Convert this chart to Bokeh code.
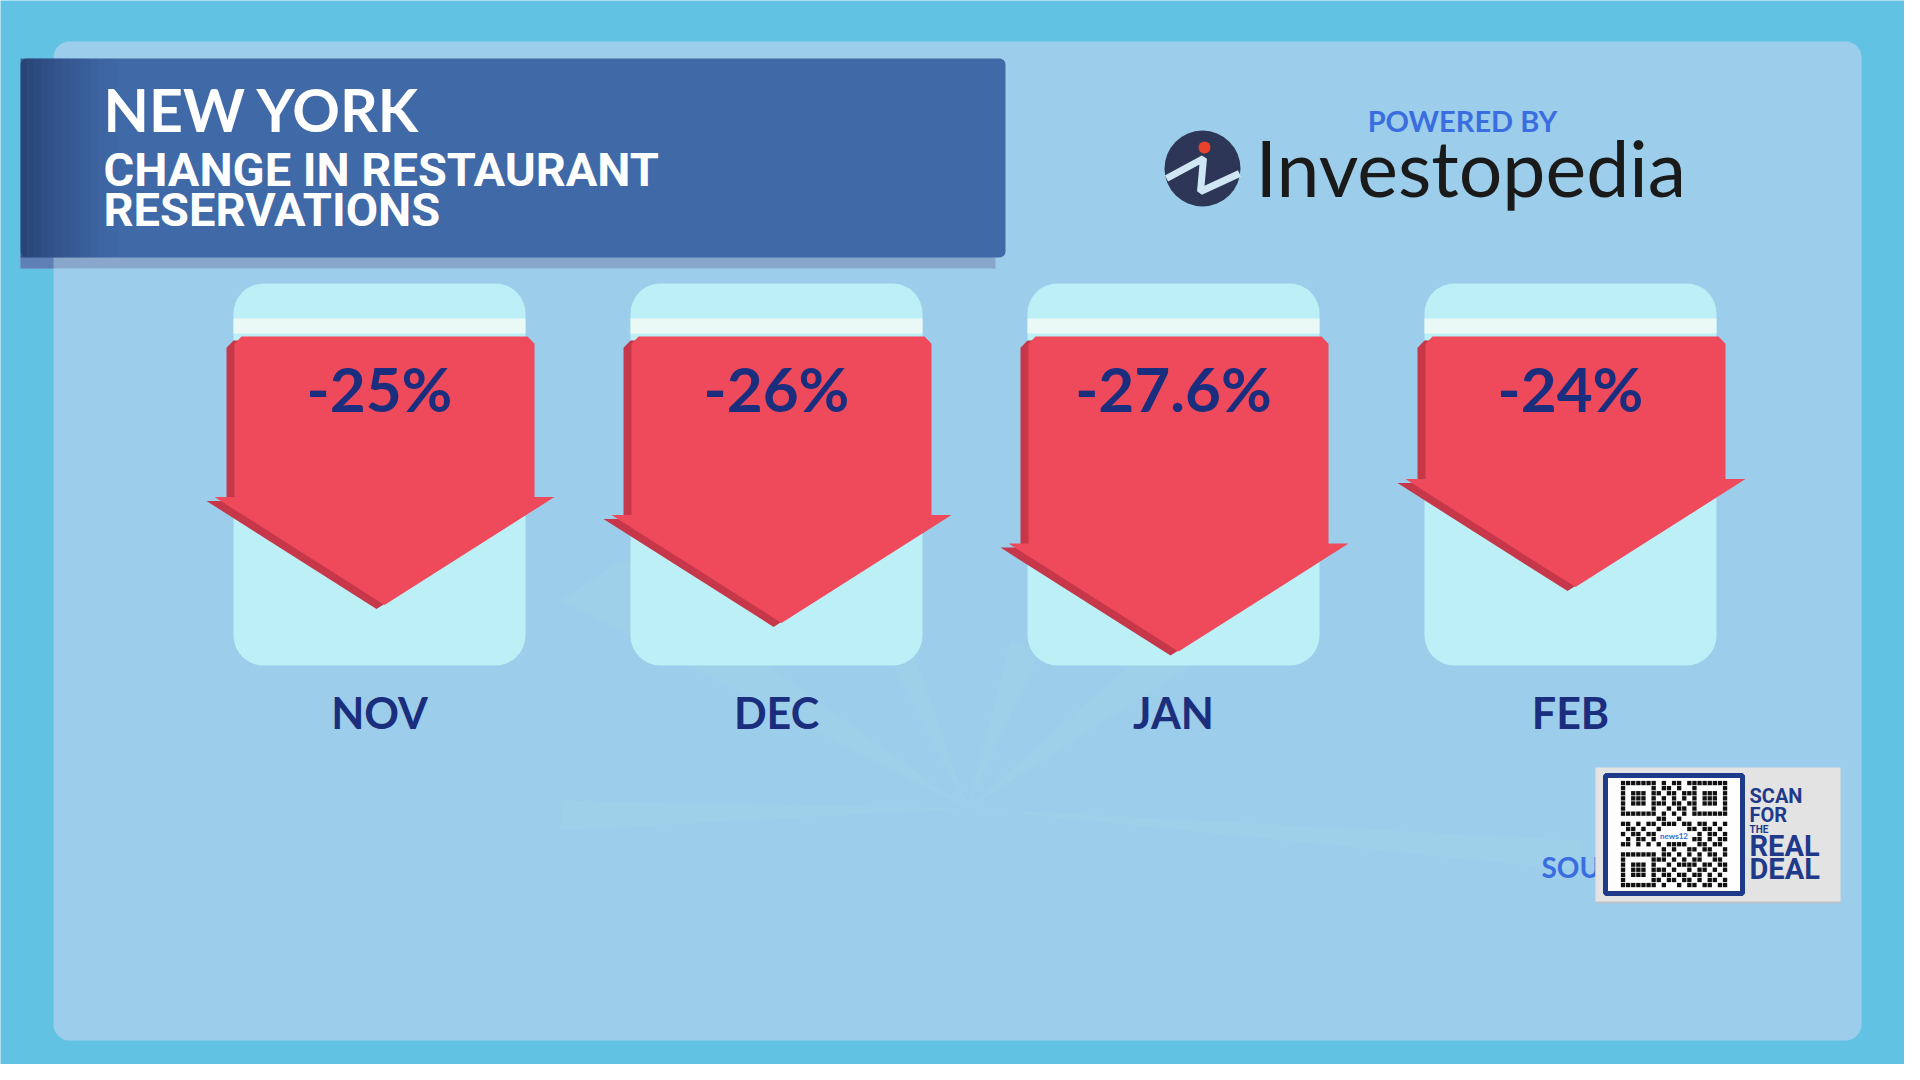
from bokeh.plotting import figure
from bokeh.models import Range1d
from bokeh.core.properties import value
from bokeh.embed import file_html
from bokeh.resources import INLINE

# ---------------- data ----------------
months = ["NOV", "DEC", "JAN", "FEB"]
changes = [-25.0, -26.0, -27.6, -24.0]
change_labels = ["-25%", "-26%", "-27.6%", "-24%"]
title_text = "NEW YORK"
subtitle_lines = ["CHANGE IN RESTAURANT", "RESERVATIONS"]
powered_text = "POWERED BY"
brand_text = "Investopedia"
qr_lines = ["SCAN", "FOR", "THE", "REAL", "DEAL"]

# ---------------- layout constants (page pixels) ----------------
W, H = 1904, 1064
OFF = 0
CX0, SP = 379.0, 397.0          # category 0 centre and spacing (px)
Y0, K = 157.0, 17.9             # 0% position and px per percent
FONT = value("Lato")
NAVY = "#1B2E7E"
BL = 0.40                       # baseline correction (em)


def ty(y, fs):
    return y - BL * fs


p = figure(width=W, height=H, x_range=Range1d(OFF, OFF + W), y_range=Range1d(OFF + H, OFF),
           output_backend="svg", toolbar_location=None, min_border=0)
p.axis.visible = False
p.grid.visible = False
p.outline_line_color = None
p.background_fill_color = "#62C2E4"
p.border_fill_color = "#62C2E4"

# category axis (index units) and percent axis
p.extra_x_ranges = {"cat": Range1d((OFF - CX0) / SP, (OFF + W - CX0) / SP)}
p.extra_y_ranges = {"pct": Range1d(-(OFF + H - Y0) / K, (Y0 - OFF) / K)}

# panel
p.quad(left=[53], right=[1861], top=[41], bottom=[1040], fill_color="#9CCDEA", line_color=None,
       border_radius=16)

# faint sunburst rays
cxr, cyr = 967, 808
rays = [((560, 600), (620, 560)), ((880, 640), (905, 630)), ((1010, 640), (1040, 650)),
        ((1580, 840), (1580, 870)), ((560, 800), (560, 830)), ((1180, 620), (1230, 640))]
p.patches(xs=[[cxr, a[0], b[0]] for a, b in rays], ys=[[cyr, a[1], b[1]] for a, b in rays],
          fill_color="#B3DBF1", fill_alpha=0.18, line_color=None)

# banner shadow + banner
p.quad(left=[20], right=[995], top=[255], bottom=[268], fill_color="#88A7CA", line_color=None)
p.quad(left=[20], right=[53], top=[255], bottom=[268], fill_color="#5F80B4", line_color=None)
p.quad(left=[20], right=[1005], top=[58], bottom=[257], fill_color="#4069A8", line_color=None,
       border_radius=6)
n = 14
p.quad(left=[20 + k * 7 for k in range(n)], right=[20 + (k + 1) * 7 for k in range(n)],
       top=[58] * n, bottom=[257] * n, fill_color="#16284F",
       fill_alpha=[0.55 * (1 - k / n) ** 1.3 for k in range(n)], line_color=None)

p.text(x=[103], y=[ty(133, 59)], text=[title_text], text_font=FONT, text_font_style="bold",
       text_font_size="59px", text_color="white", text_baseline="alphabetic")
p.text(x=[103, 103], y=[ty(188, 47), ty(228, 47)], text=subtitle_lines, text_font=value("Roboto"),
       text_font_style="bold", text_font_size="47px", text_color="white", text_baseline="alphabetic")

# powered by Investopedia
p.text(x=[1462], y=[ty(132, 29)], text=[powered_text], text_font=FONT, text_font_style="bold",
       text_font_size="29px", text_color="#3A6DE0", text_align="center", text_baseline="alphabetic")
p.circle(x=[1202], y=[168], radius=38, fill_color="#2D3656", line_color=None)
p.line(x=[1166, 1203, 1200, 1239], y=[178, 158, 191, 173], line_color="#CFE6F4", line_width=7)
p.circle(x=[1204], y=[147], radius=6, fill_color="#E8412C", line_color=None)
p.text(x=[1255], y=[ty(197, 77)], text=[brand_text], text_font=FONT, text_font_size="77px",
       text_color="#1A1A1A", text_baseline="alphabetic")

# cards
idx = list(range(len(months)))
CARD_HW = 146 / SP
p.quad(left=[i - CARD_HW for i in idx], right=[i + CARD_HW for i in idx], top=[283] * 4,
       bottom=[665] * 4, x_range_name="cat", fill_color="#BDEFF6", line_color=None, border_radius=30)
p.quad(left=[i - CARD_HW for i in idx], right=[i + CARD_HW for i in idx], top=[318] * 4,
       bottom=[333] * 4, x_range_name="cat", fill_color="#EAF8F6", line_color=None)

# arrows (tip at value via pct scale)
SHAFT_TOP = -(336 - Y0) / K
HEAD_H = 108 / K
SHW, HHW = 150 / SP, 170 / SP
CX = 7 / SP
DX = 5 / SP


def arrow(i, v, sx=0.0, sy=0.0):
    c = i + DX + sx
    hb = v + HEAD_H
    xs = [c - SHW, c - SHW + CX, c + SHW - CX, c + SHW, c + SHW, c + HHW, c, c - HHW, c - SHW]
    ys = [SHAFT_TOP - 0.4, SHAFT_TOP, SHAFT_TOP, SHAFT_TOP - 0.4, hb, hb, v, hb, hb]
    return xs, [y + sy for y in ys]


shadow = [arrow(i, v, -8 / SP, -4 / K) for i, v in zip(idx, changes)]
main = [arrow(i, v) for i, v in zip(idx, changes)]
p.patches(xs=[s[0] for s in shadow], ys=[s[1] for s in shadow], x_range_name="cat",
          y_range_name="pct", fill_color="#C7374A", line_color=None)
p.patches(xs=[m[0] for m in main], ys=[m[1] for m in main], x_range_name="cat",
          y_range_name="pct", fill_color="#EE4A5B", line_color=None)

p.text(x=idx, y=[ty(412, 62)] * 4, text=change_labels, x_range_name="cat", text_font=FONT,
       text_font_style="bold", text_font_size="62px", text_color=NAVY, text_align="center",
       text_baseline="alphabetic")
p.text(x=idx, y=[ty(729, 43)] * 4, text=months, x_range_name="cat", text_font=FONT,
       text_font_style="bold", text_font_size="43px", text_color=NAVY, text_align="center",
       text_baseline="alphabetic")

# source stub + QR card
p.text(x=[1541], y=[ty(878, 28)], text=["SOU"], text_font=FONT, text_font_style="bold",
       text_font_size="28px", text_color="#3A6DE0", text_baseline="alphabetic")
p.quad(left=[1595], right=[1840], top=[769], bottom=[903], fill_color="#B8C4CC", line_color=None)
p.quad(left=[1595], right=[1840], top=[767], bottom=[901], fill_color="#E3E3E3", line_color=None)
p.quad(left=[1605], right=[1742], top=[775], bottom=[893], fill_color="white",
       line_color="#1E3A8A", line_width=5)

qr_rows = [
    "111111101011011111111", "100000101101001000001", "101110110110111011101",
    "101110101010101011101", "101110111011011011101", "100000100101101000001",
    "111111101010101111111", "000000011001000000000", "110101101110110110101",
    "011010010000011011010", "101101100000000101101", "010110100000001101011",
    "110101010111100110110", "000000001010011011001", "111111101101010101101",
    "100000111010101100110", "101110100101111011011", "101110111010010110101",
    "101110101101101101010", "100000110110110101101", "111111101001011011011",
]
MOD = 5.1
qx, qy = 1620.0, 780.0
mx, my = [], []
for r, row in enumerate(qr_rows):
    for c, ch in enumerate(row):
        if ch == "1":
            mx.append(qx + (c + 0.5) * MOD)
            my.append(qy + (r + 0.5) * MOD)
p.rect(x=mx, y=my, width=MOD * 0.85, height=MOD * 0.85, fill_color="#111111", line_color=None)
p.text(x=[1673.5], y=[835], text=["news12"], text_font=FONT, text_font_style="bold",
       text_font_size="8px", text_color="#2F6BD8", text_align="center", text_baseline="middle")

qr_sizes = [20, 20, 10, 29, 29]
p.text(x=[1749] * 5, y=[ty(b, s) for b, s in zip([803, 822, 833, 857, 880], qr_sizes)], text=qr_lines,
       text_font=value("Roboto"), text_font_style="bold",
       text_font_size=[f"{s}px" for s in qr_sizes], text_color="#1F3A8A",
       text_baseline="alphabetic")

open("out.html", "w").write(file_html(p, INLINE))
